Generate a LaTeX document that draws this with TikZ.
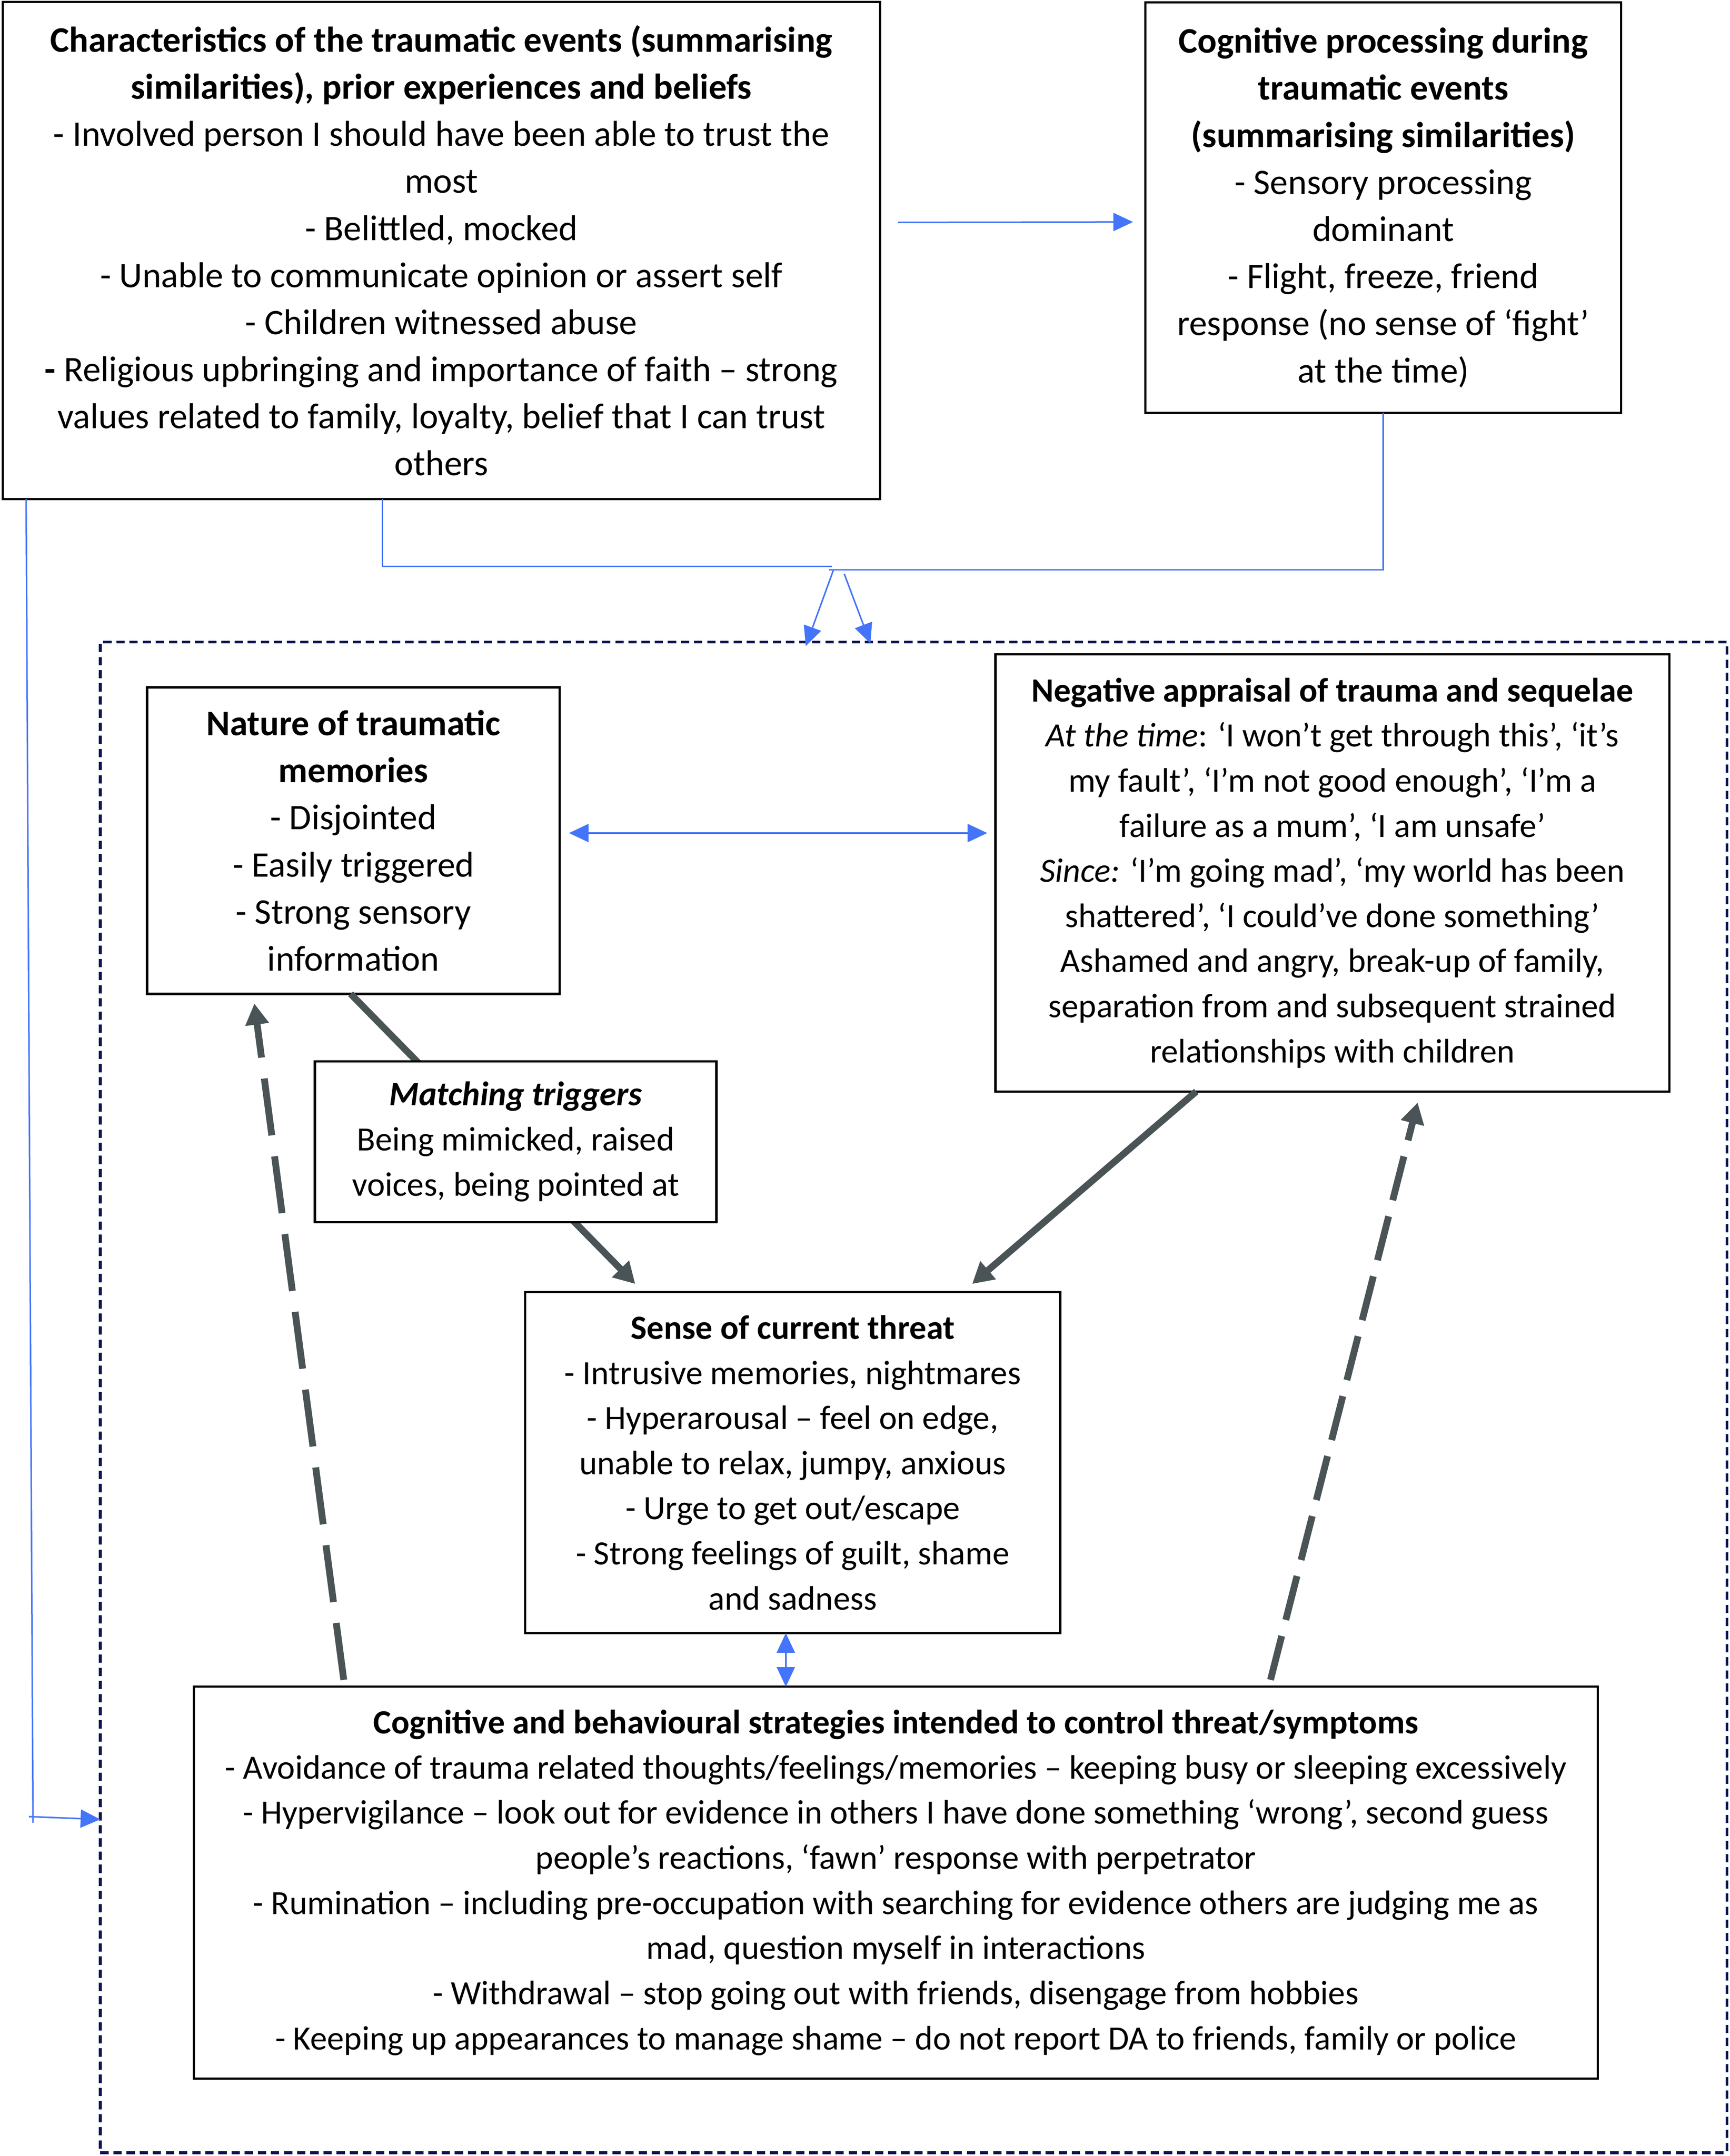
\documentclass[tikz,border=0pt]{standalone}
\usepackage{fontspec}
\setmainfont{Carlito}
\usetikzlibrary{positioning, arrows.meta, calc}
\definecolor{linkblue}{RGB}{68,116,250}
\definecolor{arrowgrey}{RGB}{74,84,86}
\definecolor{framenavy}{RGB}{12,22,82}

\begin{document}
\begin{tikzpicture}[x=0.3202mm, y=-0.3202mm,
        box/.style 2 args={draw, line width=1.5pt, fill=white, align=center, inner sep=0pt, outer sep=0pt,
            minimum width=#1*0.3202mm, minimum height=#2*0.3202mm, font=\fontsize{22.5}{29.9}\selectfont},
        topbox/.style 2 args={box={#1}{#2}, font=\fontsize{23.8}{31.2}\selectfont},
        bluelink/.style={linkblue, line width=1pt},
        bluearrow/.style={bluelink, -{Triangle[length=13pt, width=12pt]}},
        bluedouble/.style={bluelink, {Triangle[length=13pt, width=12pt]}-{Triangle[length=13pt, width=12pt]}},
        thickarrow/.style={arrowgrey, line width=4.5pt, -{Triangle[length=14pt, width=15pt]}},
        longdash/.style={thickarrow, dash pattern=on 38pt off 14pt},
        shortdash/.style={thickarrow, dash pattern=on 30pt off 11pt}]
            \useasboundingbox (0,0) rectangle (1258,1568.4);

            \node[draw=framenavy, line width=1.8pt, dash pattern=on 5.5pt off 3.2pt, inner sep=0pt, outer sep=0pt,
                minimum width=1183*0.3202mm, minimum height=1099*0.3202mm] (frame) at (664.4,1016.5) {};

            \node[topbox={638}{361.5}] (events) at (321,182.25) {\textbf{Characteristics of the traumatic events (summarising}\\
                \textbf{similarities), prior experiences and beliefs}\\
                - Involved person I should have been able to trust the\\
                most\\
                - Belittled, mocked\\
                - Unable to communicate opinion or assert self\\
                - Children witnessed abuse\\
                \textbf{-} Religious upbringing and importance of faith – strong\\
                values related to family, loyalty, belief that I can trust\\
                others};
            \node[topbox={346}{298.5}] (processing) at (1006,151) {\textbf{Cognitive processing during}\\
                \textbf{traumatic events}\\
                \textbf{(summarising similarities)}\\
                - Sensory processing\\
                dominant\\
                - Flight, freeze, friend\\
                response (no sense of ‘fight’\\
                at the time)};
            \node[topbox={300}{223}] (memories) at (257,611.5) {\textbf{Nature of traumatic}\\
                \textbf{memories}\\
                - Disjointed\\
                - Easily triggered\\
                - Strong sensory\\
                information};
            \node[box={490}{318}] (appraisal) at (969,635) {\textbf{Negative appraisal of trauma and sequelae}\\
                \textit{At the time}: ‘I won’t get through this’, ‘it’s\\
                my fault’, ‘I’m not good enough’, ‘I’m a\\
                failure as a mum’, ‘I am unsafe’\\
                \textit{Since:} ‘I’m going mad’, ‘my world has been\\
                shattered’, ‘I could’ve done something’\\
                Ashamed and angry, break-up of family,\\
                separation from and subsequent strained\\
                relationships with children};
            \node[box={389}{248}] (threat) at (576.5,1064) {\textbf{Sense of current threat}\\
                - Intrusive memories, nightmares\\
                - Hyperarousal – feel on edge,\\
                unable to relax, jumpy, anxious\\
                - Urge to get out/escape\\
                - Strong feelings of guilt, shame\\
                and sadness};
            \node[box={1021}{285}] (strategies) at (651.5,1369.5) {\textbf{Cognitive and behavioural strategies intended to control threat/symptoms}\\
                - Avoidance of trauma related thoughts/feelings/memories – keeping busy or sleeping excessively\\
                - Hypervigilance – look out for evidence in others I have done something ‘wrong’, second guess\\
                people’s reactions, ‘fawn’ response with perpetrator\\
                - Rumination – including pre-occupation with searching for evidence others are judging me as\\
                mad, question myself in interactions\\
                - Withdrawal – stop going out with friends, disengage from hobbies\\
                - Keeping up appearances to manage shame – do not report DA to friends, family or police};

            \draw[thickarrow] ($(memories.south)+(-2,0)$) -- ($(threat.north)+(-114.5,-6)$);
            \node[box={292}{117}] (triggers) at (375,830.5) {\textbf{\textit{Matching triggers}}\\
                Being mimicked, raised\\
                voices, being pointed at};

            \coordinate (forkL) at (605,412);
            \coordinate (forkR) at (603,414.5);
            \coordinate (forkA) at (606,415);
            \coordinate (forkB) at (614,417.5);
            \coordinate (bendL) at (24,1322);

            \draw[bluearrow] ($(events.east)+(13,-20.5)$) -- ($(processing.west)+(-9,10.5)$);
            \draw[bluelink] ($(events.south)+(-43,0)$) |- (forkL);
            \draw[bluelink] (processing.south) |- (forkR);
            \draw[bluearrow] (forkA) -- ($(frame.north)+(-78.4,3)$);
            \draw[bluearrow] (forkB) -- ($(frame.north)+(-31.4,1)$);
            \draw[bluelink] ($(events.south west)+(17,0)$) -- ($(bendL)+(0,4)$);
            \draw[bluearrow] ($(bendL)+(-3,-0.5)$) -- ($(frame.west |- bendL)+(0,1.5)$);
            \draw[bluedouble] ($(memories.east)+(6.8,-5.5)$) -- ($(appraisal.west)+(-6,-29)$);
            \draw[bluedouble] ($(threat.south)+(-5,0)$) -- ($(strategies.north)+(-80,0)$);

            \draw[thickarrow] ($(appraisal.south)+(-99,0)$) -- ($(threat.north)+(130.5,-6)$);
            \draw[longdash] ($(strategies.north)+(-401.5,-5)$) -- ($(memories.south)+(-72,7)$);
            \draw[shortdash] ($(strategies.north)+(272.5,-5)$) -- ($(appraisal.south)+(62,8)$);
        \end{tikzpicture}
\end{document}
